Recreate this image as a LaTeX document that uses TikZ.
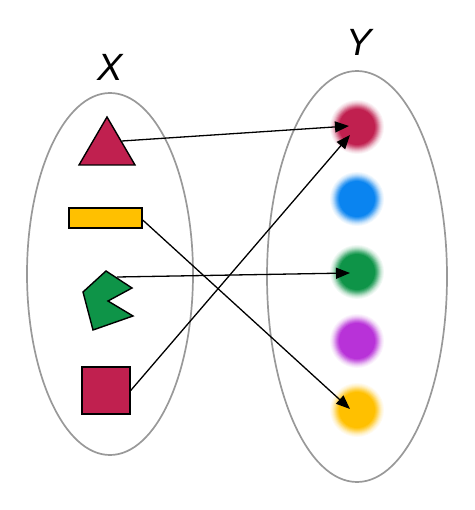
\documentclass[tikz,border=0pt]{standalone}
\usepackage{fontspec}
\setmainfont{Liberation Sans}
\usetikzlibrary{arrows.meta}
\definecolor{cred}{HTML}{C0204F}
\definecolor{cblue}{HTML}{0A84F0}
\definecolor{cgreen}{HTML}{0E9448}
\definecolor{cpurple}{HTML}{B832D8}
\definecolor{cyellow}{HTML}{FFC000}
\definecolor{setgray}{HTML}{999999}
\tikzset{
  setline/.style={draw=setgray, line width=1.7pt},
  shapeline/.style={draw=black, line width=1.4pt},
  maparrow/.style={-{Triangle[length=14pt,width=11pt]}, line width=1.3pt},
  setlabel/.style={font=\itshape\fontsize{38}{40}\selectfont, inner sep=0pt}
}
\newcommand{\blob}[3]{% name, color, position
  \foreach \r/\k in {27/6,26/12,25/20,24/30,23/42,22/55,21/68,20/80,19/90,18/100}{
    \fill[#2!\k!white] (#3) circle (\r);
  }
  \coordinate (#1) at (#3);
}
\begin{document}
\begin{tikzpicture}[x=1pt,y=-1pt]
\useasboundingbox (0,0) rectangle (474,510);
% sets
\draw[setline] (110,274) ellipse [x radius=83, y radius=181];
\draw[setline] (357,276.5) ellipse [x radius=90, y radius=205.5];
\node[setlabel] (X) at (110,67) {X};
\node[setlabel] (Y) at (359,42) {Y};
% blobs
\blob{yr}{cred}{357,127}
\blob{yb}{cblue}{357,199}
\blob{yg}{cgreen}{357,272}
\blob{yp}{cpurple}{357,341}
\blob{yy}{cyellow}{357,410}
% shapes in X
\draw[shapeline, fill=cred] (107,117) -- (135,165) -- (79,165) -- cycle;
\coordinate (tri) at (122,141);
\node[shapeline, fill=cyellow, minimum width=73pt, minimum height=20pt, inner sep=0pt] (rect) at (105.5,218) {};
\draw[shapeline, fill=cgreen, line join=miter] (106,271) -- (132,288) -- (108,301) -- (133,316) -- (93,330) -- (83,292) -- cycle;
\coordinate (pac) at (117,277);
\node[shapeline, fill=cred, minimum width=48pt, minimum height=47pt, inner sep=0pt] (sq) at (106,390.5) {};
% arrow targets
\coordinate (tr) at (349,126);
\coordinate (tr2) at (350,135);
\coordinate (tg) at (350,273);
\coordinate (ty) at (350,409);
% arrows
\draw[maparrow] (tri) -- (tr);
\draw[maparrow] ([yshift=-2pt]rect.east) -- (ty);
\draw[maparrow] (pac) -- (tg);
\draw[maparrow] (sq.east) -- (tr2);
\end{tikzpicture}
\end{document}
